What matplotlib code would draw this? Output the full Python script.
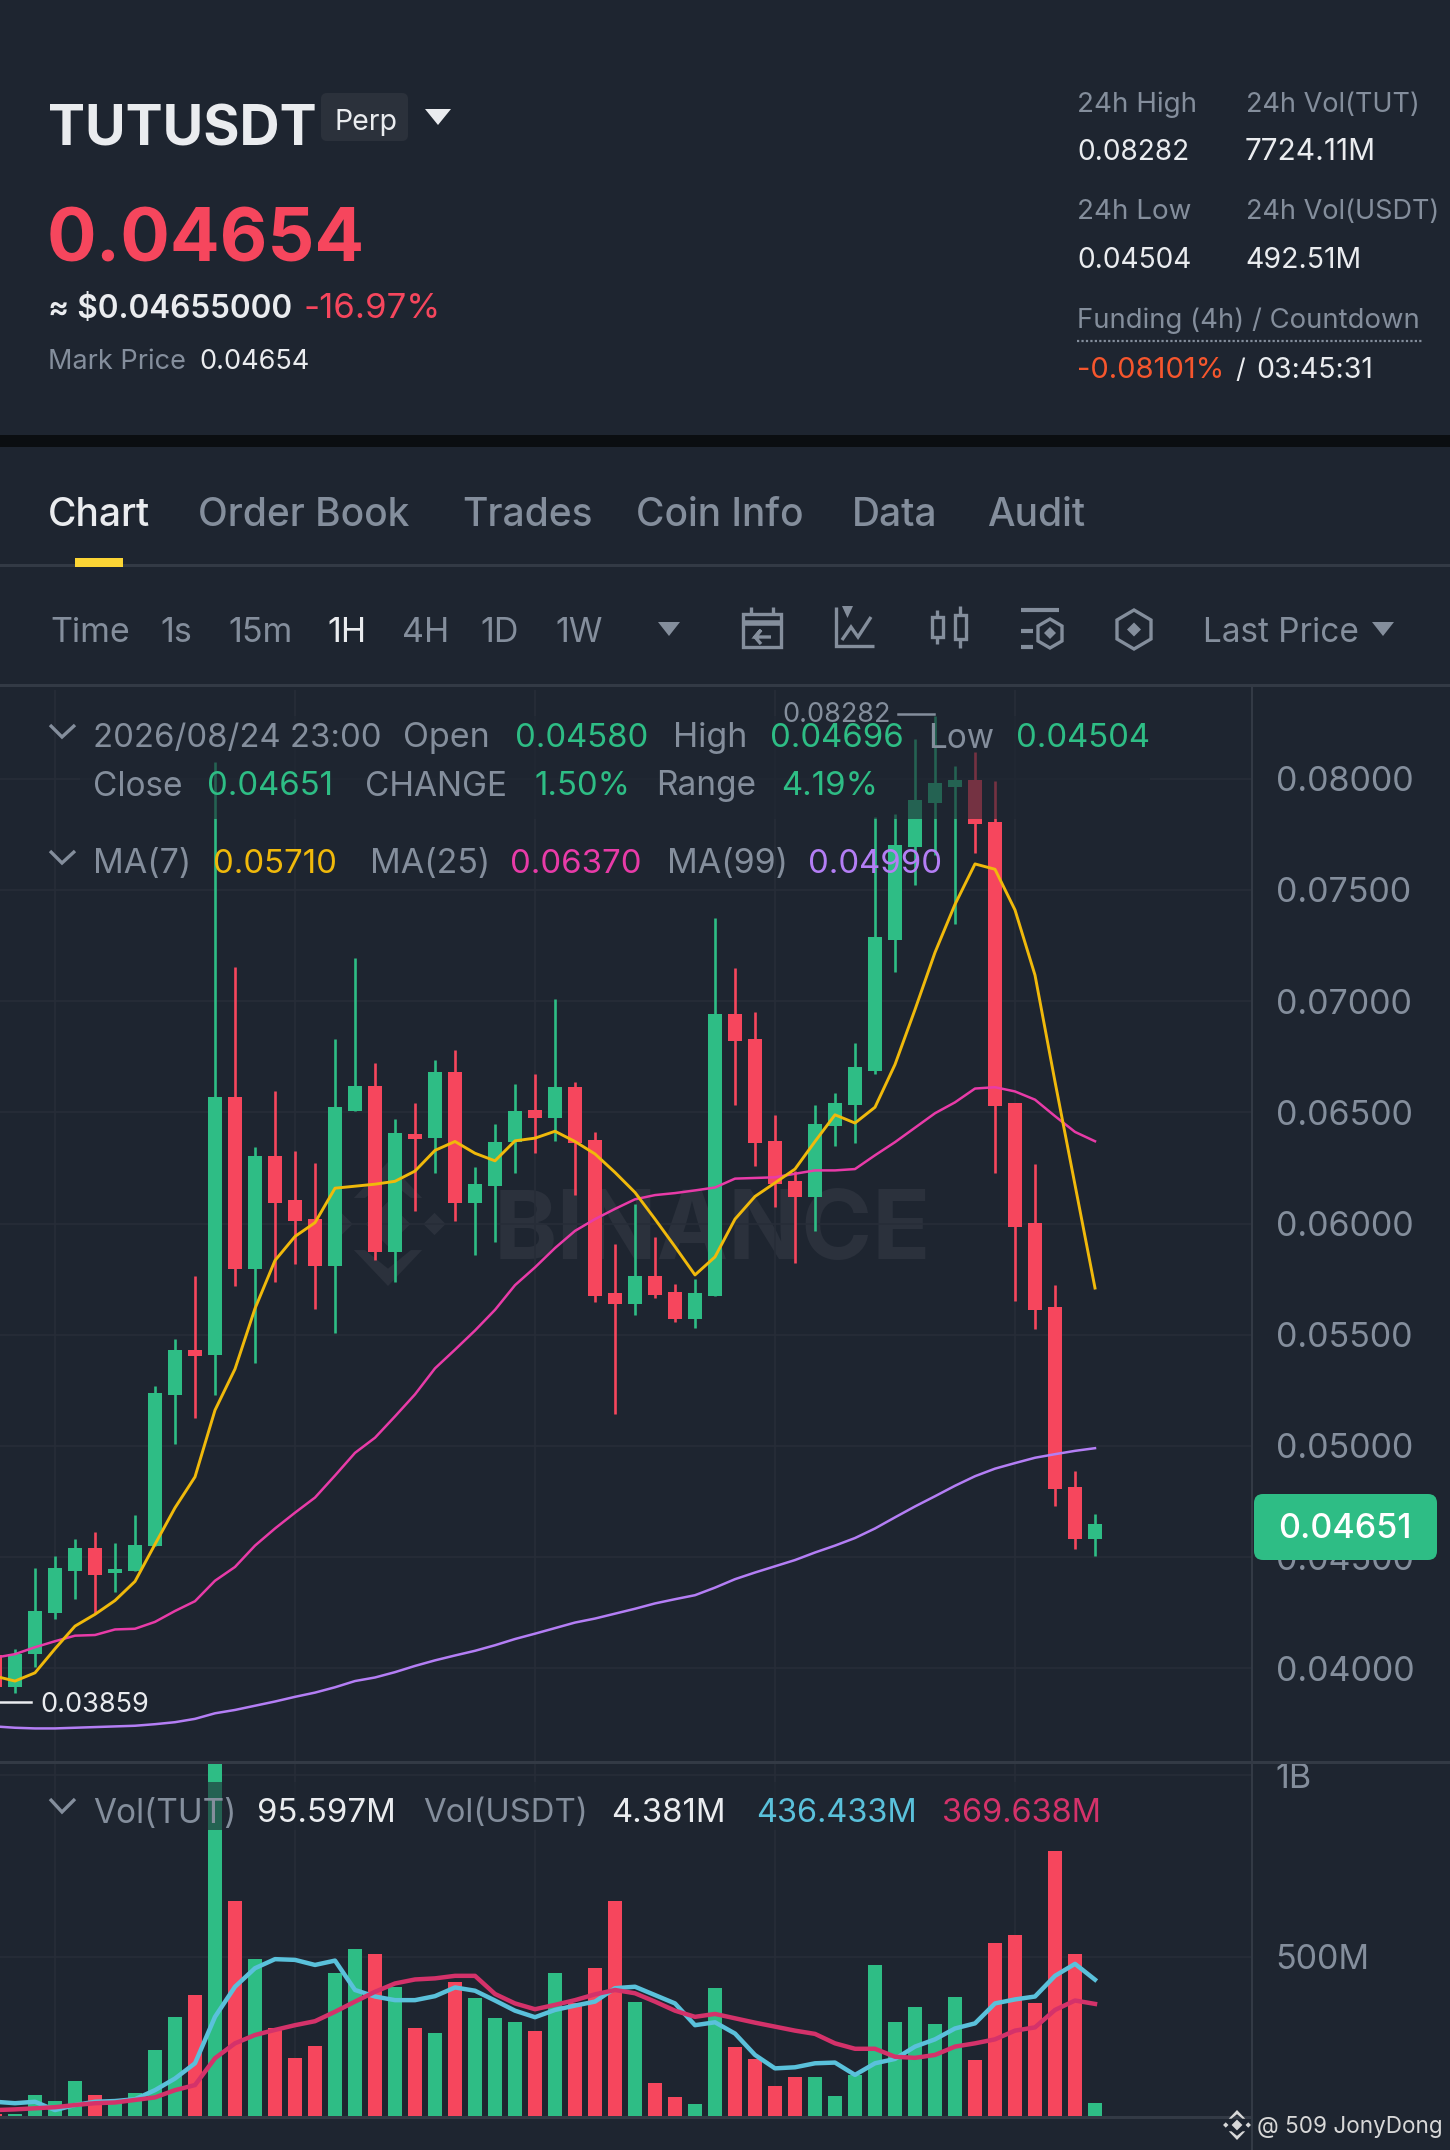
import numpy as np
import matplotlib
matplotlib.use("Agg")
import matplotlib.pyplot as plt
from matplotlib.patches import FancyBboxPatch, Polygon, Rectangle

plt.rcParams['font.family'] = ['Inter', 'DejaVu Sans']

W, H = 1450, 2150
BG = '#1E2530'
GREEN = '#2EBD85'
RED = '#F6465D'
GRAY = '#848E9C'
WHITE = '#EAECEF'
GRID = '#272D38'
LINE = '#333A45'

# candles, prices in 1e-5 USDT, first one is cut by the left edge
hours = np.arange(-1, 55)
opens = np.array([4058, 3918, 4064, 4249, 4438, 4543, 4428, 4438, 4549, 5229, 5430, 5408, 6567, 5794,
                  6304, 6106, 6020, 5810, 6508, 6619, 5874, 6403, 6384, 6681, 6091, 6168, 6366, 6511,
                  6474, 6613, 6375, 5686, 5640, 5766, 5692, 5572, 5674, 6941, 6832, 6372, 6193, 6119,
                  6437, 6533, 6687, 7274, 7694, 7889, 7963, 7994, 7806, 6542, 6001, 5624, 4815, 4580]) / 1e5
highs = np.array([4075, 4088, 4450, 4506, 4583, 4614, 4564, 4691, 5269, 5482, 5763, 8075, 7154, 6344,
                  6594, 6326, 6273, 6829, 7194, 6724, 6471, 6542, 6737, 6780, 6255, 6446, 6628, 6672,
                  7008, 6635, 6412, 5908, 6088, 5939, 5729, 5751, 7373, 7148, 6950, 6489, 6236, 6533,
                  6585, 6814, 7830, 7843, 8177, 8282, 8059, 8121, 7991, 6542, 6267, 5723, 4886, 4696]) / 1e5
lows = np.array([3859, 3888, 4005, 4221, 4314, 4243, 4345, 4438, 4549, 5009, 5124, 5229, 5717, 5371,
                 5735, 5819, 5618, 5510, 6508, 5834, 5735, 6057, 6227, 6010, 5859, 5918, 6227, 6316,
                 6369, 6128, 5649, 5142, 5590, 5667, 5559, 5531, 5674, 6533, 6261, 6075, 5822, 5967,
                 6347, 6363, 6672, 7132, 7521, 7657, 7348, 7667, 6227, 5652, 5525, 4728, 4536, 4504]) / 1e5
closes = np.array([3918, 4064, 4258, 4450, 4543, 4419, 4447, 4555, 5238, 5430, 5405, 6567, 5797, 6304,
                   6091, 6010, 5810, 6523, 6619, 5874, 6406, 6381, 6681, 6091, 6177, 6366, 6508, 6474,
                   6613, 6363, 5674, 5640, 5766, 5677, 5569, 5686, 6941, 6823, 6363, 6180, 6119, 6446,
                   6542, 6703, 7287, 7704, 7905, 7979, 7994, 7796, 6530, 5986, 5612, 4805, 4580, 4651]) / 1e5

ma7 = np.array([3965, 3943, 3980, 4088, 4190, 4243, 4305, 4391, 4558, 4722, 4861, 5161, 5346, 5618,
                5834, 5942, 6004, 6159, 6168, 6177, 6190, 6236, 6329, 6369, 6316, 6282, 6372, 6384,
                6415, 6369, 6313, 6230, 6140, 6020, 5896, 5769, 5850, 6020, 6122, 6183, 6245, 6369,
                6489, 6452, 6523, 6715, 6962, 7219, 7435, 7617, 7593, 7410, 7117, 6638, 6174, 5710]) / 1e5
ma25 = np.array([4048, 4064, 4095, 4122, 4147, 4150, 4175, 4178, 4209, 4258, 4302, 4394, 4456, 4552,
                 4629, 4700, 4768, 4867, 4969, 5037, 5133, 5232, 5349, 5433, 5519, 5612, 5723, 5803,
                 5890, 5967, 6020, 6066, 6109, 6128, 6137, 6149, 6162, 6202, 6205, 6208, 6224, 6239,
                 6239, 6245, 6307, 6366, 6431, 6496, 6545, 6607, 6613, 6594, 6557, 6483, 6412, 6370]) / 1e5
ma99 = np.array([3739, 3733, 3730, 3730, 3733, 3736, 3739, 3742, 3749, 3758, 3773, 3798, 3813, 3832,
                 3851, 3872, 3891, 3915, 3943, 3959, 3983, 4011, 4036, 4058, 4079, 4104, 4132, 4156,
                 4181, 4206, 4224, 4246, 4268, 4292, 4311, 4329, 4363, 4401, 4431, 4459, 4487, 4521,
                 4552, 4586, 4629, 4679, 4728, 4774, 4821, 4864, 4898, 4923, 4947, 4963, 4978, 4990]) / 1e5

# volume in millions, the spike runs off the top of the pane
volume = np.array([66, 66, 118, 101, 156, 120, 100, 123, 243, 333, 393, 1100, 654, 493, 304, 221, 255,
                   455, 520, 507, 417, 303, 290, 431, 387, 330, 321, 295, 455, 371, 468, 653, 376, 153,
                   113, 93, 413, 250, 218, 144, 167, 168, 115, 174, 476, 319, 362, 313, 388, 214, 537,
                   560, 371, 792, 506, 95.597])
vol_ma1 = np.array([100, 96, 100, 77, 91, 100, 102, 107, 132, 164, 206, 334, 417, 468, 493, 491, 477,
                    489, 408, 390, 380, 380, 391, 415, 406, 379, 351, 333, 353, 365, 376, 413, 417, 394,
                    371, 311, 319, 288, 229, 192, 195, 206, 208, 174, 206, 218, 252, 272, 302, 316, 371,
                    382, 390, 447, 480, 436.433])
vol_ma2 = np.array([77, 79, 82, 85, 91, 96, 98, 105, 112, 132, 146, 220, 261, 284, 298, 311, 322, 348,
                    376, 403, 426, 437, 440, 447, 447, 397, 371, 355, 367, 380, 396, 408, 399, 376, 351,
                    334, 342, 330, 318, 307, 296, 287, 261, 246, 246, 224, 221, 229, 252, 261, 272, 296,
                    305, 353, 379, 369.638])

price_ticks = [0.04, 0.045, 0.05, 0.055, 0.06, 0.065, 0.07, 0.075, 0.08]
price_labels = ['0.04000', '0.04500', '0.05000', '0.05500', '0.06000', '0.06500', '0.07000', '0.07500', '0.08000']
vol_ticks = [500, 1000]
vol_labels = ['500M', '1B']
grid_hours = [2, 14, 26, 38, 50]


def pane(x0, y0, x1, y1, z):
    a = fig.add_axes([x0 / W, 1 - y1 / H, (x1 - x0) / W, (y1 - y0) / H], zorder=z)
    a.patch.set_visible(False)
    return a


fig = plt.figure(figsize=(W / 100, H / 100), dpi=100, facecolor=BG)

# back layer, watermark only
back = pane(0, 0, W, H, 0)
back.set_xlim(0, W)
back.set_ylim(H, 0)
back.axis('off')

# top layer, page furniture and text
ui = pane(0, 0, W, H, 5)
ui.set_xlim(0, W)
ui.set_ylim(H, 0)
ui.axis('off')


def label(x, y, s, color=GRAY, size=20, weight='normal', ax=None):
    (ax or ui).text(x, y, s, color=color, fontsize=size, fontweight=weight, va='center_baseline', ha='left')


def diamond(a, cx, cy, r, color, z=2):
    a.add_patch(Polygon([(cx - r, cy), (cx, cy - r), (cx + r, cy), (cx, cy + r)], closed=True, color=color, lw=0, zorder=z))


def stroke(xs, ys, color=GRAY, lw=2.4, z=6):
    ui.plot(xs, ys, color=color, lw=lw, zorder=z, solid_capstyle='butt', solid_joinstyle='miter')


def logo(a, cx, cy, s, color):
    diamond(a, cx, cy, 0.36 * s, color)
    diamond(a, cx - 0.75 * s, cy, 0.18 * s, color)
    diamond(a, cx + 0.75 * s, cy, 0.18 * s, color)
    a.add_patch(Polygon([(cx - .55 * s, cy - .42 * s), (cx, cy - s), (cx + .55 * s, cy - .42 * s),
                         (cx + .37 * s, cy - .42 * s), (cx, cy - .72 * s), (cx - .37 * s, cy - .42 * s)],
                        closed=True, color=color, lw=0))
    a.add_patch(Polygon([(cx - .55 * s, cy + .42 * s), (cx, cy + s), (cx + .55 * s, cy + .42 * s),
                         (cx + .37 * s, cy + .42 * s), (cx, cy + .72 * s), (cx - .37 * s, cy + .42 * s)],
                        closed=True, color=color, lw=0))


logo(back, 388, 1224, 62, '#2B313C')
back.text(494, 1224, 'BINANCE', color='#2B313C', fontsize=69, fontweight='bold', va='center_baseline', ha='left')

# price pane
ax = pane(0, 690, 1252, 1762, 1)
colors = [GREEN if c >= o else RED for o, c in zip(opens, closes)]
ax.vlines(hours, lows, highs, colors=colors, lw=1.9, zorder=3)
ax.bar(hours, np.maximum(np.abs(closes - opens), 0.00012), bottom=np.minimum(opens, closes),
       width=0.7, color=colors, zorder=4)
ax.plot(hours, ma7, color='#F0B90B', lw=2.1, zorder=7)
ax.plot(hours, ma25, color='#E83BA8', lw=1.8, zorder=6)
ax.plot(hours, ma99, color='#B47EF5', lw=1.8, zorder=5)
ax.set_xlim(-0.75, 61.85)
ax.set_ylim(0.03579, 0.08399)
ax.set_xticks(grid_hours)
ax.set_yticks(price_ticks)
ax.set_yticklabels(price_labels)
ax.yaxis.tick_right()
ax.tick_params(axis='y', length=0, pad=17, labelsize=24.5, labelcolor=GRAY)
ax.tick_params(axis='x', length=0, labelbottom=False)
ax.grid(True, color=GRID, lw=1.2, zorder=0)
ax.set_axisbelow(True)
for s in ax.spines.values():
    s.set_visible(False)

# volume pane
vx = pane(0, 1763, 1252, 2117, 1)
vx.bar(hours, volume, width=0.7, color=colors, zorder=3)
vx.plot(hours, vol_ma1, color='#5AC1DB', lw=3.2, zorder=4)
vx.plot(hours, vol_ma2, color='#D4326A', lw=3.2, zorder=5)
vx.set_xlim(-0.75, 61.85)
vx.set_ylim(58, 1033.5)
vx.set_xticks(grid_hours)
vx.set_yticks(vol_ticks)
vx.set_yticklabels(vol_labels)
vx.yaxis.tick_right()
vx.tick_params(axis='y', length=0, pad=17, labelsize=24.5, labelcolor=GRAY)
vx.tick_params(axis='x', length=0, labelbottom=False)
vx.grid(True, color=GRID, lw=1.2, zorder=0)
vx.set_axisbelow(True)
for s in vx.spines.values():
    s.set_visible(False)

# legend bands dim what runs under them
ui.add_patch(Rectangle((80, 716), 1070, 103, color=BG, alpha=0.6, lw=0, zorder=1))
ui.add_patch(Rectangle((80, 1782), 1040, 48, color=BG, alpha=0.6, lw=0, zorder=1))

# page separators
ui.add_patch(Rectangle((0, 435), W, 12, color='#0B0E11', lw=0))
ui.add_patch(Rectangle((0, 563.5), W, 3, color=LINE, lw=0))
ui.add_patch(Rectangle((75, 558), 48, 9, color='#FCD535', lw=0, zorder=3))
ui.add_patch(Rectangle((0, 684), W, 3, color=LINE, lw=0))
ui.add_patch(Rectangle((0, 1760.5), W, 3, color=LINE, lw=0))
ui.add_patch(Rectangle((0, 2116), 1252, 3, color=LINE, lw=0))
ui.add_patch(Rectangle((1251, 687), 2, H - 687, color=LINE, lw=0))

# header
label(48, 125, 'TUTUSDT', WHITE, 40, 'bold')
ui.add_patch(FancyBboxPatch((321, 93), 87, 48, boxstyle='round,pad=0,rounding_size=6', color='#2B313B', lw=0))
label(335, 119, 'Perp', WHITE, 20.5)
ui.add_patch(Polygon([(425, 109), (451, 109), (438, 125)], closed=True, color=WHITE, lw=0))
label(47, 235, '0.04654', RED, 53, 'bold')
label(48, 306, '≈ $0.04655000', WHITE, 22.7, 'semibold')
label(304, 306, '-16.97%', RED, 25)
label(48, 359, 'Mark Price', GRAY, 19.5)
label(199, 359, '0.04654', WHITE, 19.5)

label(1077, 102, '24h High', GRAY, 20)
label(1246, 102, '24h Vol(TUT)', GRAY, 19.5)
label(1077, 149, '0.08282', WHITE, 20.2)
label(1245, 149, '7724.11M', WHITE, 21.5)
label(1077, 209, '24h Low', GRAY, 20)
label(1246, 209, '24h Vol(USDT)', GRAY, 19.5)
label(1077, 257, '0.04504', WHITE, 20.2)
label(1245, 257, '492.51M', WHITE, 20.5)
label(1077, 318, 'Funding (4h) / Countdown', GRAY, 19.8)
ui.plot([1077, 1422], [341, 341], color=GRAY, lw=1.6, ls=(0, (1, 1)))
label(1077, 368, '-0.08101%', '#F6562D', 21)
label(1235, 368, '/', WHITE, 19.5)
label(1256, 368, '03:45:31', WHITE, 20.5)

# tabs
label(48, 512, 'Chart', WHITE, 28, 'medium')
for tx, name in zip([198, 462, 636, 852, 987], ['Order Book', 'Trades', 'Coin Info', 'Data', 'Audit']):
    label(tx, 512, name, GRAY, 28, 'medium')

# toolbar
for tx, name in zip([50, 160, 228, 402, 480, 555], ['Time', '1s', '15m', '4H', '1D', '1W']):
    label(tx, 630, name, GRAY, 24.5)
label(327, 630, '1H', WHITE, 24.5)
label(1203, 630, 'Last Price', GRAY, 24)
ui.add_patch(Polygon([(658, 622), (680, 622), (669, 636)], closed=True, color=GRAY, lw=0))
ui.add_patch(Polygon([(1372, 622), (1394, 622), (1383, 636)], closed=True, color=GRAY, lw=0))

# toolbar icons
ui.add_patch(Rectangle((743, 614), 38, 33, fill=False, ec=GRAY, lw=2.4))
stroke([743, 781], [623, 623], lw=4)
stroke([751, 751], [607, 614])
stroke([773, 773], [607, 614])
stroke([771, 755, 761, 755, 761], [637, 637, 630, 637, 644])
stroke([836, 836, 874], [607, 646, 646])
ui.add_patch(Polygon([(842, 606), (853, 606), (847.5, 618)], closed=True, color=GRAY, lw=0))
stroke([842, 851, 858, 871], [640, 627, 637, 617])
ui.add_patch(Rectangle((932, 617), 11, 20, fill=False, ec=GRAY, lw=2.4))
ui.add_patch(Rectangle((955, 615), 11, 24, fill=False, ec=GRAY, lw=2.4))
stroke([937.5, 937.5], [610, 617])
stroke([937.5, 937.5], [637, 644])
stroke([960.5, 960.5], [606, 615])
stroke([960.5, 960.5], [639, 648])
stroke([1021, 1059], [610, 610], lw=3)
stroke([1021, 1033], [631, 631], lw=3)
stroke([1021, 1033], [647, 647], lw=3)
ui.add_patch(Polygon([(1050, 619), (1062, 626), (1062, 641), (1050, 648), (1038, 641), (1038, 626)],
                     closed=True, fill=False, ec=GRAY, lw=2.4))
diamond(ui, 1050, 633, 6, GRAY)
ui.add_patch(Polygon([(1134, 610), (1151, 620), (1151, 639), (1134, 649), (1117, 639), (1117, 620)],
                     closed=True, fill=False, ec=GRAY, lw=2.4))
diamond(ui, 1134, 629.5, 7, GRAY)

# OHLC legend
stroke([50, 62, 75], [725, 737, 725], lw=2.4)
label(93, 735, '2026/08/24 23:00', GRAY, 23.7)
label(403, 735, 'Open', GRAY, 24.5)
label(515, 735, '0.04580', GREEN, 23.7)
label(673, 735, 'High', GRAY, 24.5)
label(770, 735, '0.04696', GREEN, 23.7)
label(928, 735, 'Low', GRAY, 24)
label(1016, 735, '0.04504', GREEN, 23.7)
label(93, 783, 'Close', GRAY, 24)
label(207, 783, '0.04651', GREEN, 23.7)
label(365, 783, 'CHANGE', GRAY, 24)
label(535, 783, '1.50%', GREEN, 23.7)
label(656, 783, 'Range', GRAY, 24)
label(781, 783, '4.19%', GREEN, 23.7)

stroke([50, 62, 75], [851, 863, 851], lw=2.4)
label(93, 861, 'MA(7)', GRAY, 24.5)
label(213, 861, '0.05710', '#F0B90B', 23.7)
label(370, 861, 'MA(25)', GRAY, 24.5)
label(510, 861, '0.06370', '#E83BA8', 23.7)
label(667, 861, 'MA(99)', GRAY, 24.5)
label(808, 861, '0.04990', '#B47EF5', 23.7)

# high and low markers
label(782, 712, '0.08282', GRAY, 19.5)
ui.plot([898, 934], [714, 714], color=GRAY, lw=1.8)
ui.plot([0, 31], [1702, 1702], color=WHITE, lw=1.8)
label(40, 1702, '0.03859', WHITE, 19.5)

# last price tag
ui.add_patch(FancyBboxPatch((1254, 1494), 183, 66, boxstyle='round,pad=0,rounding_size=9', color=GREEN, lw=0))
ui.text(1345, 1525, '0.04651', color='white', fontsize=24.5, fontweight='medium', ha='center', va='center_baseline')

# volume legend
stroke([50, 62, 75], [1799, 1812, 1799], lw=2.4)
label(93, 1810, 'Vol(TUT)', GRAY, 24)
label(257, 1810, '95.597M', WHITE, 23.7)
label(423, 1810, 'Vol(USDT)', GRAY, 23.7)
label(611, 1810, '4.381M', WHITE, 23.7)
label(756, 1810, '436.433M', '#5AC1DB', 23.4)
label(942, 1810, '369.638M', '#D4326A', 23.4)

# credit
logo(ui, 1237, 2125, 15, '#D8D8D8')
label(1257, 2125, '@ 509 JonyDong', '#D8D8D8', 16.2)

fig.savefig('out.png', dpi=100, facecolor=BG)
